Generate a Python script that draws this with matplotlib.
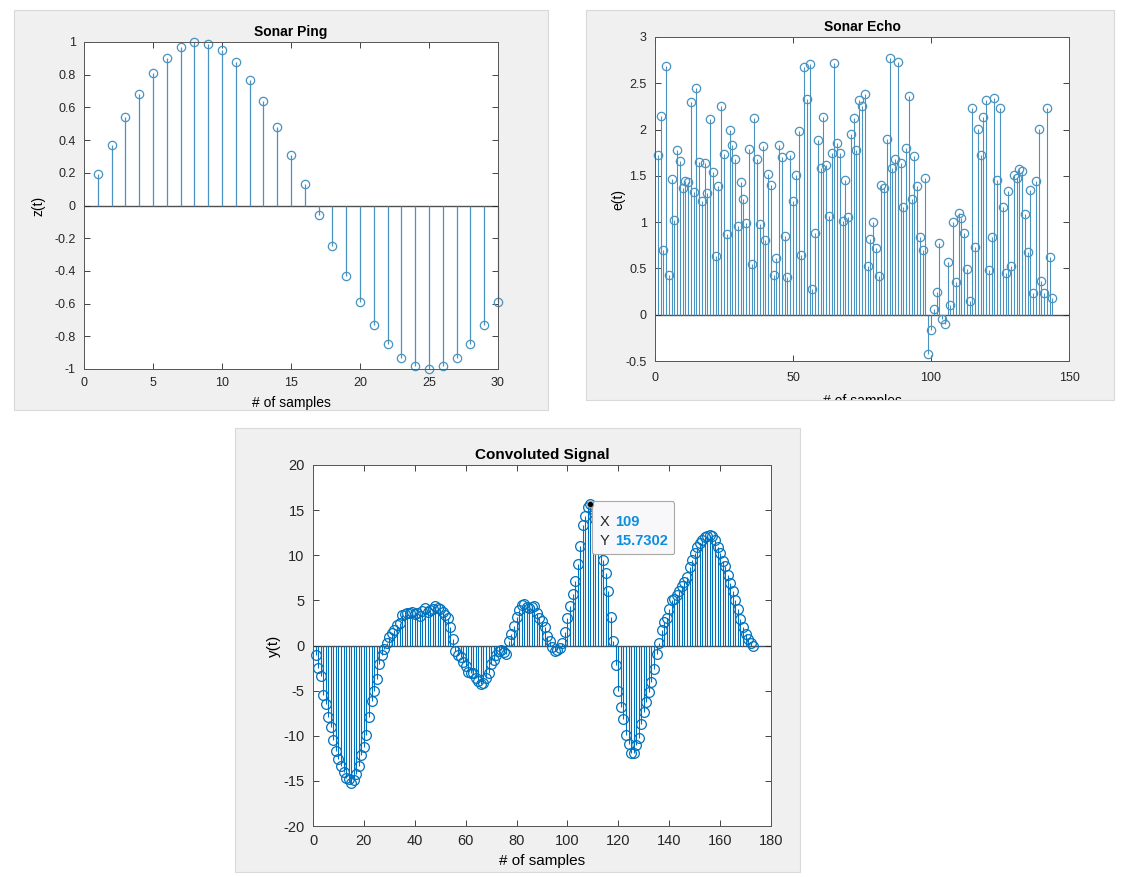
import numpy as np
import matplotlib
matplotlib.use('Agg')
import matplotlib.pyplot as plt
from matplotlib.patches import Rectangle
from matplotlib.ticker import FormatStrFormatter
from matplotlib.transforms import Bbox, TransformedBbox
from matplotlib.offsetbox import TextArea, HPacker, VPacker, AnnotationBbox, DrawingArea

plt.rcParams['font.family'] = ['Liberation Sans', 'DejaVu Sans']
plt.rcParams['axes.unicode_minus'] = False

# sonar ping z(t), 30 samples
ping = [0.19, 0.37, 0.54, 0.68, 0.81, 0.90, 0.97, 1.00, 0.99, 0.95,
        0.88, 0.77, 0.64, 0.48, 0.31, 0.13, -0.06, -0.25, -0.43, -0.59,
        -0.73, -0.85, -0.93, -0.98, -1.00, -0.98, -0.93, -0.85, -0.73, -0.59]

# sonar echo e(t), 144 samples
echo = [1.73, 2.15, 0.70, 2.69, 0.43, 1.47, 1.02, 1.78, 1.66, 1.37,
        1.44, 1.43, 2.30, 1.33, 2.45, 1.65, 1.23, 1.64, 1.32, 2.11,
        1.54, 0.63, 1.39, 2.25, 1.74, 0.87, 2.00, 1.83, 1.68, 0.96,
        1.43, 1.25, 0.99, 1.79, 0.55, 2.13, 1.68, 0.98, 1.82, 0.81,
        1.52, 1.40, 0.43, 0.61, 1.83, 1.70, 0.85, 0.41, 1.73, 1.23,
        1.51, 1.98, 0.65, 2.68, 2.33, 2.71, 0.28, 0.88, 1.89, 1.58,
        2.14, 1.62, 1.07, 1.75, 2.72, 1.85, 1.75, 1.01, 1.45, 1.06,
        1.95, 2.13, 1.78, 2.32, 2.25, 2.38, 0.53, 0.82, 1.00, 0.72,
        0.42, 1.40, 1.37, 1.90, 2.77, 1.58, 1.68, 2.73, 1.64, 1.16,
        1.80, 2.36, 1.25, 1.71, 1.39, 0.84, 0.70, 1.48, -0.42, -0.17,
        0.06, 0.25, 0.78, -0.05, -0.10, 0.57, 0.10, 1.00, 0.35, 1.10,
        1.04, 0.88, 0.49, 0.15, 2.23, 0.73, 2.01, 1.73, 2.14, 2.32,
        0.48, 0.84, 2.34, 1.46, 2.23, 1.16, 0.45, 1.34, 0.53, 1.51,
        1.48, 1.57, 1.55, 1.09, 0.68, 1.35, 0.23, 1.44, 2.01, 0.36,
        0.23, 2.23, 0.62, 0.18]

# convoluted signal y(t), 173 samples
conv = [-1.0, -2.5, -3.4, -5.5, -6.5, -7.9, -9.0, -10.5, -11.7, -12.6,
        -13.4, -14.0, -14.7, -14.8, -15.2, -14.9, -14.2, -13.3, -12.1, -11.2,
        -9.9, -7.9, -6.2, -5.0, -3.7, -2.0, -1.1, -0.4, 0.3, 0.9,
        1.4, 1.7, 2.3, 2.5, 3.4, 3.5, 3.6, 3.6, 3.7, 3.5,
        3.6, 3.3, 3.8, 4.1, 3.7, 3.9, 4.0, 4.4, 4.1, 4.0,
        3.7, 3.4, 3.1, 2.0, 0.7, -0.6, -1.0, -1.3, -1.85, -2.3,
        -2.9, -3.0, -3.1, -3.6, -3.9, -4.3, -4.2, -3.6, -3.0, -2.0,
        -1.6, -1.1, -0.6, -0.5, -0.7, -0.9, 0.5, 1.3, 2.2, 3.2,
        3.9, 4.5, 4.6, 4.3, 4.1, 4.3, 4.4, 3.6, 3.1, 2.7,
        2.0, 1.1, 0.5, -0.2, -0.6, -0.5, -0.3, 0.3, 1.55, 3.0,
        4.4, 5.7, 7.2, 9.0, 11.0, 13.3, 14.4, 15.3, 15.7302, 15.1,
        14.0, 12.6, 11.0, 9.5, 8.0, 6.0, 3.2, 0.55, -2.2, -5.0,
        -6.8, -8.1, -9.9, -10.9, -11.9, -11.9, -11.0, -10.2, -8.7, -7.4,
        -6.3, -5.2, -4.0, -2.6, -0.9, 0.3, 1.7, 2.6, 3.0, 4.0,
        5.0, 5.2, 5.6, 6.0, 6.6, 7.0, 7.6, 8.7, 9.5, 10.3,
        10.9, 11.4, 11.7, 12.0, 12.1, 12.2, 12.1, 11.7, 10.9, 10.2,
        9.4, 8.8, 7.8, 6.9, 6.0, 5.0, 4.0, 2.9, 2.0, 1.3,
        0.7, 0.26, 0.0]

ping_yticks = [-1, -0.8, -0.6, -0.4, -0.2, 0, 0.2, 0.4, 0.6, 0.8, 1]
echo_yticks = [-0.5, 0, 0.5, 1, 1.5, 2, 2.5, 3]
tip_x, tip_y = 109, 15.7302

W, H = 1124, 877
fig = plt.figure(figsize=(W / 100, H / 100), dpi=100)
fig.patch.set_facecolor('white')

# grey MATLAB figure windows (pixel boxes: left, top, right, bottom)
panels = [(14, 10, 548, 410), (586, 10, 1114, 400), (235, 428, 800, 872)]
for l, t, r, b in panels:
    fig.patches.append(Rectangle((l / W, 1 - b / H), (r - l) / W, (b - t) / H,
                                 transform=fig.transFigure, fc='#f0f0f0',
                                 ec='#d9d9d9', lw=0.8, zorder=-10))


def px_axes(l, t, r, b):
    return fig.add_axes([l / W, 1 - b / H, (r - l) / W, (b - t) / H])


def style(ax, fs, xpad=5):
    ax.tick_params(direction='in', top=True, right=True, length=4, width=0.6,
                   colors='#262626', labelsize=fs)
    ax.tick_params(axis='x', pad=xpad)
    ax.tick_params(axis='y', pad=6)
    for s in ax.spines.values():
        s.set_color('#555555')
        s.set_linewidth(0.7)
    ax.yaxis.set_major_formatter(FormatStrFormatter('%g'))
    ax.xaxis.set_major_formatter(FormatStrFormatter('%g'))


def matlab_stem(ax, vals, color, ms, lw):
    n = np.arange(1, len(vals) + 1)
    ml, sl, bl = ax.stem(n, vals, linefmt='-', markerfmt='o', basefmt=' ')
    sl.set_color(color)
    sl.set_linewidth(lw)
    sl.set_clip_on(False)
    ml.set_color(color)
    ml.set_markerfacecolor('none')
    ml.set_markersize(ms)
    ml.set_markeredgewidth(0.9)
    ml.set_clip_on(False)
    ax.axhline(0, color='#505050', lw=1.0, zorder=1)


# Sonar Ping
ax1 = px_axes(84, 42, 498, 369)
matlab_stem(ax1, ping, '#4a93c0', 6, 0.9)
ax1.set_xlim(0, 30)
ax1.set_ylim(-1, 1)
ax1.set_xticks(np.arange(0, 31, 5))
ax1.set_yticks(ping_yticks)
style(ax1, 9, xpad=6)
ax1.set_title('Sonar Ping', fontsize=10, fontweight='bold', pad=4)
ax1.set_xlabel('# of samples', fontsize=10, labelpad=5)
ax1.set_ylabel('z(t)', fontsize=10, labelpad=6)

# Sonar Echo
ax2 = px_axes(655, 37, 1069, 361)
matlab_stem(ax2, echo, '#4a93c0', 6, 0.8)
ax2.set_xlim(0, 150)
ax2.set_ylim(-0.5, 3)
ax2.set_xticks([0, 50, 100, 150])
ax2.set_yticks(echo_yticks)
style(ax2, 9, xpad=8)
ax2.set_title('Sonar Echo', fontsize=10, fontweight='bold', pad=4)
ax2.set_xlabel('# of samples', fontsize=10, labelpad=7)
ax2.set_ylabel('e(t)', fontsize=10, labelpad=0)
l, t, r, b = panels[1]
clip = TransformedBbox(Bbox([[l / W, 1 - b / H], [r / W, 1 - t / H]]), fig.transFigure)
ax2.xaxis.label.set_clip_box(clip)
ax2.xaxis.label.set_clip_on(True)

# Convoluted Signal
ax3 = px_axes(313, 465, 771, 826)
matlab_stem(ax3, conv, '#0072BD', 7, 0.8)
ax3.set_xlim(0, 180)
ax3.set_ylim(-20, 20)
ax3.set_xticks(np.arange(0, 181, 20))
ax3.set_yticks(np.arange(-20, 21, 5))
style(ax3, 10.5, xpad=6)
ax3.set_title('Convoluted Signal', fontsize=11, fontweight='bold', pad=4)
ax3.set_xlabel('# of samples', fontsize=11, labelpad=4)
ax3.set_ylabel('y(t)', fontsize=11, labelpad=2)

# data tip
ax3.plot(tip_x, tip_y, 'o', color='black', ms=4.5, mec='#9a9a9a', mew=0.8,
         zorder=6, clip_on=False)
rows = [DrawingArea(1, 2)]
for name, val in [('X', '%g' % tip_x), ('Y', '%g' % tip_y)]:
    rows.append(HPacker(children=[
        TextArea(name, textprops=dict(color='#262626', fontsize=10.5)),
        TextArea(val, textprops=dict(color='#0a8fe0', fontsize=10.5, fontweight='bold'))],
        align='baseline', pad=0, sep=4))
tip = AnnotationBbox(VPacker(children=rows, align='left', pad=0, sep=3),
                     (tip_x, tip_y), xybox=(6.5, -3.5), xycoords='data',
                     boxcoords='offset points', box_alignment=(0, 1), pad=0,
                     bboxprops=dict(boxstyle='round,pad=0.5,rounding_size=0.2',
                                    fc='#f8f8fb', ec='#a8a8a8', lw=0.8))
tip.set_zorder(5)
ax3.add_artist(tip)

fig.savefig('out.png', dpi=100)
